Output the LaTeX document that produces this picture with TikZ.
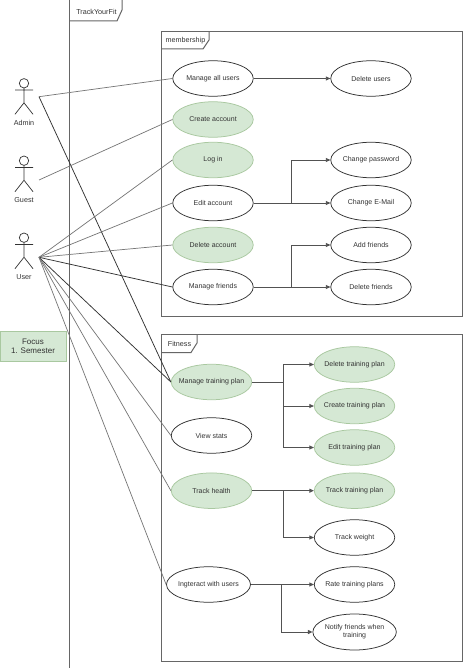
\documentclass[tikz,border=0pt]{standalone}
\usepackage{fontspec}
\setmainfont{Liberation Sans}
\usetikzlibrary{arrows.meta,shapes.geometric}
\definecolor{gfill}{HTML}{D5E8D4}
\definecolor{gline}{HTML}{A9C8A0}
\definecolor{ink}{HTML}{333333}
\definecolor{lineg}{HTML}{666666}
\tikzset{
  base/.style={font=\fontsize{7.2}{9}\selectfont,text=ink},
  uc/.style={font=\fontsize{7}{8.6}\selectfont,text=ink,ellipse,draw=ink,line width=0.75pt,fill=white,minimum width=80.5pt,minimum height=35.5pt,inner sep=0pt},
  ucg/.style={uc,draw=gline,fill=gfill},
  frameline/.style={draw=lineg,line width=1pt},
  assoc/.style={draw=lineg!90,line width=0.7pt},
  assocd/.style={draw=ink,line width=0.75pt},
  flow/.style={draw=ink!85,line width=0.85pt,-{Triangle[length=4.5pt,width=4pt]}},
  actorline/.style={draw=ink,line width=0.7pt},
  lab/.style={base,inner sep=0pt},
}
\newcommand{\stick}[1]{%
  \draw[actorline] (24,#1) circle (4.7);
  \draw[actorline] (24,#1+4.7) -- (24,#1+19.5) -- (15,#1+31) (24,#1+19.5) -- (33,#1+31) (15,#1+6.8) -- (33,#1+6.8);
}
\newcommand{\uct}[1]{\makebox[0pt]{\raisebox{-0.6pt}{#1}}}
\begin{document}
\begin{tikzpicture}[x=1pt,y=-1pt]
\useasboundingbox (0,0) rectangle (474,668);
\fill[white] (0,0) rectangle (474,668);

% frames
\draw[frameline] (122,0) -- (122,10) -- (117,21) -- (69,21);
\draw[frameline] (69,0) -- (69,668);
\node[lab] (ftrack) at (96.5,11.5) {TrackYourFit};

\draw[frameline] (161,31.5) rectangle (462,316.5);
\draw[frameline] (209,31.5) -- (209,40) -- (203,49) -- (161,49);
\node[lab] (fmember) at (185.5,40.5) {membership};

\draw[frameline] (161,334.5) rectangle (462,661.5);
\draw[frameline] (197,334.5) -- (197,343) -- (191,352.5) -- (161,352.5);
\node[lab] (ffit) at (179.5,344) {Fitness};

% focus note
\node[font=\fontsize{8}{8.8}\selectfont,text=ink,draw=gline,fill=gfill,minimum width=66pt,minimum height=29.5pt,inner sep=0pt,align=center,line width=0.75pt] (focus) at (33,346.5) {Focus\\1. Semester};

% actors
\stick{83.3}
\stick{160.7}
\stick{237.7}
\node[lab] (ladmin) at (24,122.7) {Admin};
\node[lab] (lguest) at (24,200) {Guest};
\node[lab] (luser) at (24,277.3) {User};
\coordinate (admin) at (39,96.7);
\coordinate (guest) at (39,180);
\coordinate (user) at (39,257.3);

% use cases: membership
\node[uc]  (mau) at (213,78.5)  {\uct{Manage all users}};
\node[ucg] (ca)  at (213,119.5) {\uct{Create account}};
\node[ucg] (li)  at (213,160)   {\uct{Log in}};
\node[uc]  (ea)  at (213,203)   {\uct{Edit account}};
\node[ucg] (da)  at (213,245)   {\uct{Delete account}};
\node[uc]  (mf)  at (213,287)   {\uct{Manage friends}};
\node[uc]  (du)  at (371,78.5)  {\uct{Delete users}};
\node[uc]  (cp)  at (371,160)   {\uct{Change password}};
\node[uc]  (ce)  at (371,203)   {\uct{Change E-Mail}};
\node[uc]  (af)  at (371,245)   {\uct{Add friends}};
\node[uc]  (df)  at (371,287)   {\uct{Delete friends}};

% use cases: fitness
\node[ucg] (mtp) at (211.5,382)   {\uct{Manage training plan}};
\node[uc]  (vs)  at (211.5,435.5) {\uct{View stats}};
\node[ucg] (th)  at (211.5,490.7) {\uct{Track health}};
\node[uc,minimum width=84pt] (iu) at (208.5,584.5) {\uct{Ingteract with users}};
\node[ucg] (dtp) at (354.5,364.5) {\uct{Delete training plan}};
\node[ucg] (ctp) at (354.5,406)   {\uct{Create training plan}};
\node[ucg] (etp) at (354.5,447.5) {\uct{Edit training plan}};
\node[ucg] (ttp) at (354.5,490.7) {\uct{Track training plan}};
\node[uc]  (tw)  at (354.5,537.5) {\uct{Track weight}};
\node[uc]  (rtp) at (354.5,584.5) {\uct{Rate training plans}};
\node[uc,minimum width=83.5pt,minimum height=36pt] (nf) at (354.6,632) {\uct{\begin{tabular}{@{}c@{}}Notify friends when\\[-0.6pt]training\end{tabular}}};

% associations
\draw[assoc] (admin) -- (mau.west);
\draw[assocd] (admin) -- (mtp.west);
\draw[assoc] (guest) -- (ca.west);
\draw[assoc] (user) -- (li.west);
\draw[assoc] (user) -- (ea.west);
\draw[assoc] (user) -- (da.west);
\draw[assocd] (user) -- (mf.west);
\draw[assocd] (user) -- (mtp.west);
\draw[assoc] (user) -- (vs.west);
\draw[assoc] (user) -- (th.west);
\draw[assoc] (user) -- (iu.west);

% flows
\coordinate (j1) at (291.7,203);
\coordinate (j2) at (291.7,287);
\coordinate (j3) at (283,382);
\coordinate (j4) at (283,490.7);
\coordinate (j5) at (281.7,584.5);
\draw[flow] (mau.east) -- (du.west);
\draw[flow] (ea.east) -- (j1) |- (cp.west);
\draw[flow] (ea.east) -- (ce.west);
\draw[flow] (mf.east) -- (j2) |- (af.west);
\draw[flow] (mf.east) -- (df.west);
\draw[flow] (mtp.east) -- (j3) |- (dtp.west);
\draw[flow] (mtp.east) -- (j3) |- (ctp.west);
\draw[flow] (mtp.east) -- (j3) |- (etp.west);
\draw[flow] (th.east) -- (ttp.west);
\draw[flow] (th.east) -- (j4) |- (tw.west);
\draw[flow] (iu.east) -- (rtp.west);
\draw[flow] (iu.east) -- (j5) |- (nf.west);
\end{tikzpicture}
\end{document}
